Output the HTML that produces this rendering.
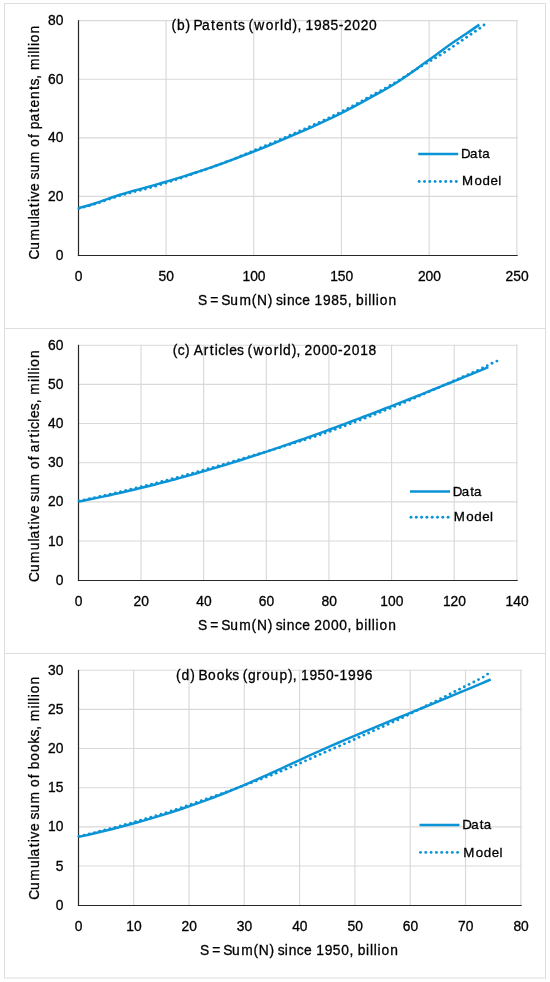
<!DOCTYPE html>
<html><head><meta charset="utf-8"><title>Charts</title>
<style>html,body{margin:0;padding:0;background:#fff;width:550px;height:982px;overflow:hidden}svg{display:block}</style>
</head><body>
<svg width="550" height="982" viewBox="0 0 550 982" font-family='"Liberation Sans", Arial, sans-serif' font-size="13.8">
<g fill="none" stroke="#dedede" stroke-width="1">
<rect x="4.5" y="3.5" width="541" height="974.5"/>
<line x1="4.5" y1="328.5" x2="545.5" y2="328.5"/>
<line x1="4.5" y1="653.5" x2="545.5" y2="653.5"/>
</g>
<g stroke="#d9d9d9" stroke-width="1.15" fill="none">
<line x1="78.60" y1="196.40" x2="517.70" y2="196.40"/>
<line x1="78.60" y1="137.80" x2="517.70" y2="137.80"/>
<line x1="78.60" y1="79.20" x2="517.70" y2="79.20"/>
<line x1="78.60" y1="20.60" x2="517.70" y2="20.60"/>
<line x1="166.05" y1="20.20" x2="166.05" y2="255.20"/>
<line x1="253.75" y1="20.20" x2="253.75" y2="255.20"/>
<line x1="341.45" y1="20.20" x2="341.45" y2="255.20"/>
<line x1="429.15" y1="20.20" x2="429.15" y2="255.20"/>
<line x1="516.85" y1="20.20" x2="516.85" y2="255.20"/>
</g>
<g stroke="#262626" stroke-width="1.2" fill="none">
<line x1="78.50" y1="20.20" x2="78.50" y2="256.10"/>
<line x1="77.90" y1="255.50" x2="517.70" y2="255.50"/>
</g>
<g fill="#0a93d5"><circle cx="79.00" cy="208.44" r="1.45"/><circle cx="84.15" cy="207.10" r="1.45"/><circle cx="89.29" cy="205.70" r="1.45"/><circle cx="94.38" cy="204.14" r="1.45"/><circle cx="99.44" cy="202.48" r="1.45"/><circle cx="104.49" cy="200.78" r="1.45"/><circle cx="109.53" cy="199.07" r="1.45"/><circle cx="114.58" cy="197.39" r="1.45"/><circle cx="119.65" cy="195.77" r="1.45"/><circle cx="124.76" cy="194.29" r="1.45"/><circle cx="129.90" cy="192.90" r="1.45"/><circle cx="135.06" cy="191.57" r="1.45"/><circle cx="140.22" cy="190.27" r="1.45"/><circle cx="145.38" cy="188.95" r="1.45"/><circle cx="150.53" cy="187.60" r="1.45"/><circle cx="155.65" cy="186.13" r="1.45"/><circle cx="160.74" cy="184.57" r="1.45"/><circle cx="165.82" cy="182.97" r="1.45"/><circle cx="170.88" cy="181.33" r="1.45"/><circle cx="175.94" cy="179.67" r="1.45"/><circle cx="181.00" cy="177.99" r="1.45"/><circle cx="186.04" cy="176.28" r="1.45"/><circle cx="191.07" cy="174.55" r="1.45"/><circle cx="196.10" cy="172.80" r="1.45"/><circle cx="201.12" cy="171.03" r="1.45"/><circle cx="206.15" cy="169.27" r="1.45"/><circle cx="211.17" cy="167.50" r="1.45"/><circle cx="216.18" cy="165.71" r="1.45"/><circle cx="221.18" cy="163.88" r="1.45"/><circle cx="226.17" cy="162.01" r="1.45"/><circle cx="231.14" cy="160.09" r="1.45"/><circle cx="236.07" cy="158.10" r="1.45"/><circle cx="240.98" cy="156.05" r="1.45"/><circle cx="245.89" cy="153.96" r="1.45"/><circle cx="250.78" cy="151.86" r="1.45"/><circle cx="255.68" cy="149.79" r="1.45"/><circle cx="260.60" cy="147.76" r="1.45"/><circle cx="265.52" cy="145.72" r="1.45"/><circle cx="270.44" cy="143.68" r="1.45"/><circle cx="275.35" cy="141.62" r="1.45"/><circle cx="280.25" cy="139.54" r="1.45"/><circle cx="285.14" cy="137.44" r="1.45"/><circle cx="290.03" cy="135.32" r="1.45"/><circle cx="294.91" cy="133.19" r="1.45"/><circle cx="299.78" cy="131.05" r="1.45"/><circle cx="304.65" cy="128.89" r="1.45"/><circle cx="309.52" cy="126.73" r="1.45"/><circle cx="314.37" cy="124.55" r="1.45"/><circle cx="319.22" cy="122.34" r="1.45"/><circle cx="324.05" cy="120.11" r="1.45"/><circle cx="328.87" cy="117.84" r="1.45"/><circle cx="333.67" cy="115.53" r="1.45"/><circle cx="338.45" cy="113.19" r="1.45"/><circle cx="343.21" cy="110.80" r="1.45"/><circle cx="347.95" cy="108.38" r="1.45"/><circle cx="352.66" cy="105.91" r="1.45"/><circle cx="357.36" cy="103.40" r="1.45"/><circle cx="362.04" cy="100.85" r="1.45"/><circle cx="366.70" cy="98.29" r="1.45"/><circle cx="371.37" cy="95.72" r="1.45"/><circle cx="376.03" cy="93.16" r="1.45"/><circle cx="380.72" cy="90.63" r="1.45"/><circle cx="385.41" cy="88.11" r="1.45"/><circle cx="390.05" cy="85.51" r="1.45"/><circle cx="394.66" cy="82.84" r="1.45"/><circle cx="399.23" cy="80.10" r="1.45"/><circle cx="403.74" cy="77.27" r="1.45"/><circle cx="408.23" cy="74.42" r="1.45"/><circle cx="412.71" cy="71.53" r="1.45"/><circle cx="417.20" cy="68.68" r="1.45"/><circle cx="421.77" cy="65.95" r="1.45"/><circle cx="426.39" cy="63.30" r="1.45"/><circle cx="430.99" cy="60.61" r="1.45"/><circle cx="435.58" cy="57.91" r="1.45"/><circle cx="440.12" cy="55.13" r="1.45"/><circle cx="444.61" cy="52.27" r="1.45"/><circle cx="449.06" cy="49.35" r="1.45"/><circle cx="453.44" cy="46.33" r="1.45"/><circle cx="457.81" cy="43.28" r="1.45"/><circle cx="462.20" cy="40.27" r="1.45"/><circle cx="466.60" cy="37.27" r="1.45"/><circle cx="470.99" cy="34.26" r="1.45"/><circle cx="475.38" cy="31.25" r="1.45"/><circle cx="479.76" cy="28.22" r="1.45"/><circle cx="484.00" cy="25.00" r="1.45"/></g>
<path d="M79.00,207.94 C80.36,207.58 84.45,206.57 87.17,205.78 C89.89,204.99 92.62,204.11 95.34,203.22 C98.06,202.32 100.79,201.36 103.51,200.42 C106.23,199.47 108.95,198.49 111.68,197.55 C114.40,196.62 117.12,195.67 119.85,194.80 C122.57,193.93 125.29,193.11 128.02,192.33 C130.74,191.55 133.46,190.85 136.19,190.11 C138.91,189.37 141.63,188.63 144.36,187.88 C147.08,187.13 149.80,186.37 152.52,185.60 C155.25,184.83 157.97,184.06 160.69,183.27 C163.42,182.48 166.14,181.68 168.86,180.88 C171.59,180.07 174.31,179.25 177.03,178.42 C179.76,177.59 182.48,176.75 185.20,175.89 C187.93,175.04 190.65,174.17 193.37,173.29 C196.09,172.41 198.82,171.51 201.54,170.60 C204.26,169.69 206.99,168.77 209.71,167.83 C212.43,166.89 215.16,165.94 217.88,164.97 C220.60,164.01 223.33,163.03 226.05,162.04 C228.77,161.04 231.50,160.04 234.22,159.02 C236.94,158.00 239.66,156.97 242.39,155.93 C245.11,154.89 247.83,153.83 250.56,152.77 C253.28,151.70 256.00,150.63 258.73,149.54 C261.45,148.45 264.17,147.35 266.90,146.24 C269.62,145.13 272.34,144.01 275.07,142.88 C277.79,141.75 280.51,140.60 283.23,139.45 C285.96,138.30 288.68,137.14 291.40,135.97 C294.13,134.80 296.85,133.62 299.57,132.44 C302.30,131.25 305.02,130.05 307.74,128.85 C310.47,127.64 313.19,126.43 315.91,125.19 C318.64,123.96 321.36,122.72 324.08,121.45 C326.80,120.19 329.53,118.91 332.25,117.60 C334.97,116.29 337.70,114.97 340.42,113.61 C343.14,112.26 345.87,110.88 348.59,109.46 C351.31,108.05 354.04,106.60 356.76,105.13 C359.48,103.66 362.21,102.16 364.93,100.66 C367.65,99.17 370.37,97.67 373.10,96.17 C375.82,94.66 378.54,93.18 381.27,91.64 C383.99,90.11 386.71,88.57 389.44,86.95 C392.16,85.34 394.88,83.69 397.61,81.95 C400.33,80.21 403.05,78.39 405.78,76.51 C408.50,74.64 411.22,72.66 413.94,70.71 C416.67,68.76 419.39,66.78 422.11,64.83 C424.84,62.87 427.56,60.96 430.28,59.00 C433.01,57.04 435.73,55.03 438.45,53.04 C441.18,51.05 443.90,49.01 446.62,47.05 C449.35,45.09 452.07,43.16 454.79,41.29 C457.51,39.42 460.24,37.63 462.96,35.81 C465.68,33.99 468.41,32.22 471.13,30.35 C473.85,28.49 477.94,25.58 479.30,24.63" fill="none" stroke="#0a93d5" stroke-width="2.50" stroke-linejoin="round"/>
<line x1="418.20" y1="153.90" x2="458.20" y2="153.90" stroke="#0a93d5" stroke-width="2.50"/>
<g fill="#0a93d5"><circle cx="419.20" cy="181.50" r="1.45"/><circle cx="424.50" cy="181.50" r="1.45"/><circle cx="429.80" cy="181.50" r="1.45"/><circle cx="435.10" cy="181.50" r="1.45"/><circle cx="440.40" cy="181.50" r="1.45"/><circle cx="445.70" cy="181.50" r="1.45"/><circle cx="451.00" cy="181.50" r="1.45"/><circle cx="456.30" cy="181.50" r="1.45"/></g>
<g fill="#000" stroke="#000" stroke-width="0.30">
<text x="63.40" y="260.00" text-anchor="end">0</text>
<text x="63.40" y="201.00" text-anchor="end">20</text>
<text x="63.40" y="142.00" text-anchor="end">40</text>
<text x="63.40" y="84.00" text-anchor="end">60</text>
<text x="63.40" y="25.00" text-anchor="end">80</text>
<text x="78.60" y="280.80" text-anchor="middle">0</text>
<text x="166.30" y="280.80" text-anchor="middle">50</text>
<text x="254.00" y="280.80" text-anchor="middle">100</text>
<text x="341.70" y="280.80" text-anchor="middle">150</text>
<text x="429.40" y="280.80" text-anchor="middle">200</text>
<text x="517.10" y="280.80" text-anchor="middle">250</text>
<text x="171.42 177.03 185.48 190.04 193.62 202.02 211.06 216.10 224.58 233.50 238.09 244.66 248.48 254.37 265.78 274.58 280.10 283.90 292.61 297.38 301.29 305.58 314.05 322.17 330.45 338.81 344.00 352.35 360.75 369.10" y="30.10">(b) Patents (world), 1985-2020</text>
<text x="197.99 206.41 210.28 218.38 221.30 230.23 239.38 251.71 257.04 267.77 272.33 275.96 282.94 286.94 295.12 302.36 310.24 314.54 323.02 331.15 339.43 347.73 351.64 356.06 364.47 368.27 372.07 375.86 379.82 388.58" y="304.60">S = Sum(N) since 1985, billion</text>
<text transform="translate(38.80,258.40) rotate(-90)" x="-1.10 8.70 17.82 30.54 39.12 42.20 51.24 56.33 60.04 67.50 75.37 78.99 86.05 95.17 107.39 111.68 120.40 124.85 129.25 136.95 145.99 151.01 159.48 168.38 172.96 179.74 183.64 188.32 200.95 204.74 208.53 212.31 216.25 224.99" y="0">Cumulative sum of patents, million</text>
<text x="461.06 469.96 478.35 482.27" y="158.30" font-size="13.30">Data</text>
<text x="461.99 474.47 482.46 490.46 498.26" y="185.10" font-size="13.30">Model</text>
</g>
<g stroke="#d9d9d9" stroke-width="1.15" fill="none">
<line x1="78.60" y1="541.03" x2="517.70" y2="541.03"/>
<line x1="78.60" y1="501.87" x2="517.70" y2="501.87"/>
<line x1="78.60" y1="462.70" x2="517.70" y2="462.70"/>
<line x1="78.60" y1="423.53" x2="517.70" y2="423.53"/>
<line x1="78.60" y1="384.37" x2="517.70" y2="384.37"/>
<line x1="78.60" y1="345.20" x2="517.70" y2="345.20"/>
<line x1="140.99" y1="344.80" x2="140.99" y2="580.40"/>
<line x1="203.64" y1="344.80" x2="203.64" y2="580.40"/>
<line x1="266.28" y1="344.80" x2="266.28" y2="580.40"/>
<line x1="328.92" y1="344.80" x2="328.92" y2="580.40"/>
<line x1="391.56" y1="344.80" x2="391.56" y2="580.40"/>
<line x1="454.21" y1="344.80" x2="454.21" y2="580.40"/>
<line x1="516.85" y1="344.80" x2="516.85" y2="580.40"/>
</g>
<g stroke="#262626" stroke-width="1.2" fill="none">
<line x1="78.50" y1="344.80" x2="78.50" y2="581.10"/>
<line x1="77.90" y1="580.50" x2="517.70" y2="580.50"/>
</g>
<g fill="#0a93d5"><circle cx="79.00" cy="500.98" r="1.45"/><circle cx="84.21" cy="499.90" r="1.45"/><circle cx="89.42" cy="498.80" r="1.45"/><circle cx="94.62" cy="497.68" r="1.45"/><circle cx="99.82" cy="496.54" r="1.45"/><circle cx="105.02" cy="495.38" r="1.45"/><circle cx="110.21" cy="494.20" r="1.45"/><circle cx="115.39" cy="493.00" r="1.45"/><circle cx="120.57" cy="491.78" r="1.45"/><circle cx="125.75" cy="490.54" r="1.45"/><circle cx="130.92" cy="489.28" r="1.45"/><circle cx="136.09" cy="488.00" r="1.45"/><circle cx="141.25" cy="486.71" r="1.45"/><circle cx="146.42" cy="485.43" r="1.45"/><circle cx="151.58" cy="484.14" r="1.45"/><circle cx="156.74" cy="482.83" r="1.45"/><circle cx="161.90" cy="481.51" r="1.45"/><circle cx="167.05" cy="480.16" r="1.45"/><circle cx="172.19" cy="478.78" r="1.45"/><circle cx="177.33" cy="477.40" r="1.45"/><circle cx="182.46" cy="475.99" r="1.45"/><circle cx="187.59" cy="474.57" r="1.45"/><circle cx="192.71" cy="473.13" r="1.45"/><circle cx="197.84" cy="471.68" r="1.45"/><circle cx="202.96" cy="470.23" r="1.45"/><circle cx="208.08" cy="468.78" r="1.45"/><circle cx="213.20" cy="467.33" r="1.45"/><circle cx="218.31" cy="465.85" r="1.45"/><circle cx="223.42" cy="464.36" r="1.45"/><circle cx="228.53" cy="462.85" r="1.45"/><circle cx="233.63" cy="461.32" r="1.45"/><circle cx="238.72" cy="459.78" r="1.45"/><circle cx="243.81" cy="458.21" r="1.45"/><circle cx="248.90" cy="456.67" r="1.45"/><circle cx="254.01" cy="455.17" r="1.45"/><circle cx="259.12" cy="453.68" r="1.45"/><circle cx="264.23" cy="452.20" r="1.45"/><circle cx="269.34" cy="450.70" r="1.45"/><circle cx="274.44" cy="449.17" r="1.45"/><circle cx="279.53" cy="447.63" r="1.45"/><circle cx="284.62" cy="446.07" r="1.45"/><circle cx="289.70" cy="444.49" r="1.45"/><circle cx="294.78" cy="442.90" r="1.45"/><circle cx="299.86" cy="441.30" r="1.45"/><circle cx="304.93" cy="439.69" r="1.45"/><circle cx="310.00" cy="438.06" r="1.45"/><circle cx="315.07" cy="436.45" r="1.45"/><circle cx="320.13" cy="434.78" r="1.45"/><circle cx="325.14" cy="433.00" r="1.45"/><circle cx="330.14" cy="431.18" r="1.45"/><circle cx="335.15" cy="429.36" r="1.45"/><circle cx="340.15" cy="427.54" r="1.45"/><circle cx="345.15" cy="425.71" r="1.45"/><circle cx="350.14" cy="423.87" r="1.45"/><circle cx="355.12" cy="421.99" r="1.45"/><circle cx="360.09" cy="420.09" r="1.45"/><circle cx="365.06" cy="418.17" r="1.45"/><circle cx="370.01" cy="416.23" r="1.45"/><circle cx="374.97" cy="414.28" r="1.45"/><circle cx="379.92" cy="412.32" r="1.45"/><circle cx="384.86" cy="410.36" r="1.45"/><circle cx="389.81" cy="408.39" r="1.45"/><circle cx="394.75" cy="406.42" r="1.45"/><circle cx="399.70" cy="404.45" r="1.45"/><circle cx="404.62" cy="402.42" r="1.45"/><circle cx="409.50" cy="400.31" r="1.45"/><circle cx="414.38" cy="398.17" r="1.45"/><circle cx="419.25" cy="396.04" r="1.45"/><circle cx="424.13" cy="393.89" r="1.45"/><circle cx="429.00" cy="391.74" r="1.45"/><circle cx="433.87" cy="389.59" r="1.45"/><circle cx="438.74" cy="387.45" r="1.45"/><circle cx="443.61" cy="385.32" r="1.45"/><circle cx="448.49" cy="383.19" r="1.45"/><circle cx="453.38" cy="381.07" r="1.45"/><circle cx="458.26" cy="378.94" r="1.45"/><circle cx="463.13" cy="376.81" r="1.45"/><circle cx="468.01" cy="374.68" r="1.45"/><circle cx="472.89" cy="372.55" r="1.45"/><circle cx="477.73" cy="370.35" r="1.45"/><circle cx="482.53" cy="368.04" r="1.45"/><circle cx="487.30" cy="365.67" r="1.45"/><circle cx="492.01" cy="363.20" r="1.45"/><circle cx="496.90" cy="361.10" r="1.45"/></g>
<path d="M79.00,501.48 C80.39,501.21 84.57,500.40 87.35,499.84 C90.14,499.29 92.92,498.72 95.71,498.14 C98.49,497.57 101.27,496.99 104.06,496.39 C106.84,495.80 109.63,495.20 112.41,494.58 C115.20,493.97 117.98,493.35 120.77,492.72 C123.55,492.09 126.33,491.45 129.12,490.80 C131.90,490.15 134.69,489.49 137.47,488.83 C140.26,488.16 143.04,487.48 145.82,486.80 C148.61,486.11 151.39,485.42 154.18,484.71 C156.96,484.01 159.75,483.30 162.53,482.58 C165.31,481.86 168.10,481.13 170.88,480.39 C173.67,479.65 176.45,478.90 179.24,478.15 C182.02,477.39 184.81,476.63 187.59,475.85 C190.37,475.08 193.16,474.30 195.94,473.51 C198.73,472.72 201.51,471.92 204.30,471.11 C207.08,470.30 209.86,469.49 212.65,468.66 C215.43,467.84 218.22,467.01 221.00,466.16 C223.79,465.32 226.57,464.47 229.36,463.61 C232.14,462.76 234.92,461.89 237.71,461.02 C240.49,460.14 243.28,459.26 246.06,458.37 C248.85,457.48 251.63,456.58 254.41,455.67 C257.20,454.76 259.98,453.85 262.77,452.93 C265.55,452.00 268.34,451.08 271.12,450.14 C273.90,449.20 276.69,448.26 279.47,447.31 C282.26,446.36 285.04,445.40 287.83,444.44 C290.61,443.47 293.40,442.50 296.18,441.53 C298.96,440.55 301.75,439.57 304.53,438.58 C307.32,437.59 310.10,436.59 312.89,435.59 C315.67,434.59 318.45,433.59 321.24,432.58 C324.02,431.56 326.81,430.55 329.59,429.53 C332.38,428.50 335.16,427.48 337.94,426.45 C340.73,425.41 343.51,424.38 346.30,423.34 C349.08,422.30 351.87,421.25 354.65,420.20 C357.44,419.15 360.22,418.10 363.00,417.04 C365.79,415.98 368.57,414.92 371.36,413.86 C374.14,412.79 376.93,411.72 379.71,410.65 C382.49,409.58 385.28,408.50 388.06,407.42 C390.85,406.34 393.63,405.26 396.42,404.17 C399.20,403.08 401.99,401.99 404.77,400.89 C407.55,399.80 410.34,398.70 413.12,397.60 C415.91,396.50 418.69,395.40 421.48,394.29 C424.26,393.18 427.04,392.07 429.83,390.96 C432.61,389.84 435.40,388.73 438.18,387.61 C440.97,386.49 443.75,385.37 446.53,384.24 C449.32,383.12 452.10,381.99 454.89,380.86 C457.67,379.73 460.46,378.60 463.24,377.46 C466.03,376.33 468.81,375.19 471.59,374.05 C474.38,372.91 477.16,371.77 479.95,370.62 C482.73,369.48 486.91,367.75 488.30,367.18" fill="none" stroke="#0a93d5" stroke-width="2.50" stroke-linejoin="round"/>
<line x1="410.00" y1="491.40" x2="450.00" y2="491.40" stroke="#0a93d5" stroke-width="2.50"/>
<g fill="#0a93d5"><circle cx="411.00" cy="517.20" r="1.45"/><circle cx="416.30" cy="517.20" r="1.45"/><circle cx="421.60" cy="517.20" r="1.45"/><circle cx="426.90" cy="517.20" r="1.45"/><circle cx="432.20" cy="517.20" r="1.45"/><circle cx="437.50" cy="517.20" r="1.45"/><circle cx="442.80" cy="517.20" r="1.45"/><circle cx="448.10" cy="517.20" r="1.45"/></g>
<g fill="#000" stroke="#000" stroke-width="0.30">
<text x="63.40" y="585.00" text-anchor="end">0</text>
<text x="63.40" y="546.00" text-anchor="end">10</text>
<text x="63.40" y="506.00" text-anchor="end">20</text>
<text x="63.40" y="467.00" text-anchor="end">30</text>
<text x="63.40" y="428.00" text-anchor="end">40</text>
<text x="63.40" y="389.00" text-anchor="end">50</text>
<text x="63.40" y="350.00" text-anchor="end">60</text>
<text x="78.60" y="606.00" text-anchor="middle">0</text>
<text x="141.24" y="606.00" text-anchor="middle">20</text>
<text x="203.89" y="606.00" text-anchor="middle">40</text>
<text x="266.53" y="606.00" text-anchor="middle">60</text>
<text x="329.17" y="606.00" text-anchor="middle">80</text>
<text x="391.81" y="606.00" text-anchor="middle">100</text>
<text x="454.46" y="606.00" text-anchor="middle">120</text>
<text x="517.10" y="606.00" text-anchor="middle">140</text>
<text x="172.73 177.77 185.12 189.69 193.67 203.68 209.63 214.75 218.25 225.56 229.29 237.08 243.67 247.50 253.41 264.85 273.67 279.19 283.02 291.74 296.52 300.44 304.61 312.99 321.38 329.78 338.05 343.26 351.64 360.19 368.43" y="354.80">(c) Articles (world), 2000-2018</text>
<text x="197.98 206.39 210.26 218.35 221.26 230.17 239.31 251.62 256.94 267.66 272.21 275.84 282.81 286.80 294.97 302.19 310.07 314.22 322.57 330.94 339.31 347.50 351.40 355.82 364.22 368.01 371.80 375.59 379.54 388.28" y="630.20">S = Sum(N) since 2000, billion</text>
<text transform="translate(38.80,580.80) rotate(-90)" x="-1.10 8.72 17.86 30.60 39.19 42.27 51.32 56.42 60.14 67.61 75.49 79.12 86.19 95.33 107.56 111.87 120.60 125.05 128.49 137.36 143.30 148.40 151.88 159.18 162.90 170.68 177.46 181.37 186.06 198.70 202.50 206.29 210.08 214.03 222.78" y="0">Cumulative sum of articles, million</text>
<text x="452.86 461.76 470.15 474.07" y="495.60" font-size="13.30">Data</text>
<text x="453.79 466.27 474.26 482.26 490.06" y="520.70" font-size="13.30">Model</text>
</g>
<g stroke="#d9d9d9" stroke-width="1.15" fill="none">
<line x1="78.60" y1="866.03" x2="521.70" y2="866.03"/>
<line x1="78.60" y1="826.87" x2="521.70" y2="826.87"/>
<line x1="78.60" y1="787.70" x2="521.70" y2="787.70"/>
<line x1="78.60" y1="748.53" x2="521.70" y2="748.53"/>
<line x1="78.60" y1="709.37" x2="521.70" y2="709.37"/>
<line x1="78.60" y1="670.20" x2="521.70" y2="670.20"/>
<line x1="133.66" y1="669.80" x2="133.66" y2="905.40"/>
<line x1="188.97" y1="669.80" x2="188.97" y2="905.40"/>
<line x1="244.29" y1="669.80" x2="244.29" y2="905.40"/>
<line x1="299.60" y1="669.80" x2="299.60" y2="905.40"/>
<line x1="354.91" y1="669.80" x2="354.91" y2="905.40"/>
<line x1="410.23" y1="669.80" x2="410.23" y2="905.40"/>
<line x1="465.54" y1="669.80" x2="465.54" y2="905.40"/>
<line x1="520.85" y1="669.80" x2="520.85" y2="905.40"/>
</g>
<g stroke="#262626" stroke-width="1.2" fill="none">
<line x1="78.50" y1="669.80" x2="78.50" y2="906.10"/>
<line x1="77.90" y1="905.50" x2="521.70" y2="905.50"/>
</g>
<g fill="#0a93d5"><circle cx="79.00" cy="836.32" r="1.45"/><circle cx="84.17" cy="835.10" r="1.45"/><circle cx="89.34" cy="833.86" r="1.45"/><circle cx="94.50" cy="832.60" r="1.45"/><circle cx="99.65" cy="831.32" r="1.45"/><circle cx="104.80" cy="830.01" r="1.45"/><circle cx="109.94" cy="828.68" r="1.45"/><circle cx="115.08" cy="827.33" r="1.45"/><circle cx="120.21" cy="825.95" r="1.45"/><circle cx="125.33" cy="824.54" r="1.45"/><circle cx="130.44" cy="823.10" r="1.45"/><circle cx="135.55" cy="821.64" r="1.45"/><circle cx="140.65" cy="820.16" r="1.45"/><circle cx="145.76" cy="818.69" r="1.45"/><circle cx="150.86" cy="817.21" r="1.45"/><circle cx="155.95" cy="815.70" r="1.45"/><circle cx="161.03" cy="814.15" r="1.45"/><circle cx="166.11" cy="812.58" r="1.45"/><circle cx="171.17" cy="810.97" r="1.45"/><circle cx="176.22" cy="809.34" r="1.45"/><circle cx="181.26" cy="807.66" r="1.45"/><circle cx="186.30" cy="805.96" r="1.45"/><circle cx="191.32" cy="804.23" r="1.45"/><circle cx="196.34" cy="802.49" r="1.45"/><circle cx="201.35" cy="800.74" r="1.45"/><circle cx="206.38" cy="799.02" r="1.45"/><circle cx="211.41" cy="797.31" r="1.45"/><circle cx="216.42" cy="795.57" r="1.45"/><circle cx="221.43" cy="793.78" r="1.45"/><circle cx="226.42" cy="791.96" r="1.45"/><circle cx="231.39" cy="790.10" r="1.45"/><circle cx="236.37" cy="788.24" r="1.45"/><circle cx="241.35" cy="786.40" r="1.45"/><circle cx="246.33" cy="784.56" r="1.45"/><circle cx="251.32" cy="782.74" r="1.45"/><circle cx="256.31" cy="780.90" r="1.45"/><circle cx="261.28" cy="779.02" r="1.45"/><circle cx="266.23" cy="777.11" r="1.45"/><circle cx="271.17" cy="775.15" r="1.45"/><circle cx="276.10" cy="773.17" r="1.45"/><circle cx="281.01" cy="771.16" r="1.45"/><circle cx="285.92" cy="769.13" r="1.45"/><circle cx="290.84" cy="767.12" r="1.45"/><circle cx="295.76" cy="765.10" r="1.45"/><circle cx="300.64" cy="763.01" r="1.45"/><circle cx="305.50" cy="760.87" r="1.45"/><circle cx="310.36" cy="758.72" r="1.45"/><circle cx="315.21" cy="756.56" r="1.45"/><circle cx="320.07" cy="754.42" r="1.45"/><circle cx="324.94" cy="752.29" r="1.45"/><circle cx="329.81" cy="750.17" r="1.45"/><circle cx="334.69" cy="748.07" r="1.45"/><circle cx="339.57" cy="745.97" r="1.45"/><circle cx="344.44" cy="743.87" r="1.45"/><circle cx="349.31" cy="741.73" r="1.45"/><circle cx="354.14" cy="739.53" r="1.45"/><circle cx="358.97" cy="737.31" r="1.45"/><circle cx="363.81" cy="735.12" r="1.45"/><circle cx="368.65" cy="732.93" r="1.45"/><circle cx="373.49" cy="730.76" r="1.45"/><circle cx="378.34" cy="728.59" r="1.45"/><circle cx="383.20" cy="726.43" r="1.45"/><circle cx="388.05" cy="724.28" r="1.45"/><circle cx="392.90" cy="722.10" r="1.45"/><circle cx="397.74" cy="719.91" r="1.45"/><circle cx="402.54" cy="717.63" r="1.45"/><circle cx="407.29" cy="715.26" r="1.45"/><circle cx="412.04" cy="712.88" r="1.45"/><circle cx="416.79" cy="710.52" r="1.45"/><circle cx="421.55" cy="708.16" r="1.45"/><circle cx="426.32" cy="705.81" r="1.45"/><circle cx="431.08" cy="703.46" r="1.45"/><circle cx="435.85" cy="701.11" r="1.45"/><circle cx="440.61" cy="698.75" r="1.45"/><circle cx="445.36" cy="696.37" r="1.45"/><circle cx="450.10" cy="693.98" r="1.45"/><circle cx="454.83" cy="691.57" r="1.45"/><circle cx="459.55" cy="689.14" r="1.45"/><circle cx="464.29" cy="686.74" r="1.45"/><circle cx="469.06" cy="684.40" r="1.45"/><circle cx="473.82" cy="682.04" r="1.45"/><circle cx="478.54" cy="679.60" r="1.45"/><circle cx="483.22" cy="677.08" r="1.45"/><circle cx="487.60" cy="674.10" r="1.45"/></g>
<path d="M79.00,836.82 C80.40,836.51 84.60,835.58 87.40,834.95 C90.20,834.31 93.00,833.67 95.80,833.01 C98.60,832.35 101.41,831.68 104.21,831.00 C107.01,830.32 109.81,829.63 112.61,828.93 C115.41,828.23 118.21,827.51 121.01,826.78 C123.81,826.05 126.61,825.31 129.41,824.56 C132.21,823.80 135.01,823.04 137.81,822.26 C140.61,821.48 143.42,820.68 146.22,819.87 C149.02,819.06 151.82,818.24 154.62,817.40 C157.42,816.57 160.22,815.71 163.02,814.85 C165.82,813.98 168.62,813.10 171.42,812.20 C174.22,811.30 177.02,810.39 179.82,809.45 C182.63,808.52 185.43,807.58 188.23,806.62 C191.03,805.65 193.83,804.67 196.63,803.68 C199.43,802.68 202.23,801.66 205.03,800.63 C207.83,799.60 210.63,798.55 213.43,797.48 C216.23,796.42 219.03,795.33 221.83,794.23 C224.64,793.13 227.44,792.01 230.24,790.87 C233.04,789.73 235.84,788.58 238.64,787.41 C241.44,786.24 244.24,785.05 247.04,783.85 C249.84,782.65 252.64,781.42 255.44,780.19 C258.24,778.96 261.04,777.70 263.84,776.44 C266.65,775.18 269.45,773.91 272.25,772.63 C275.05,771.35 277.85,770.06 280.65,768.77 C283.45,767.48 286.25,766.18 289.05,764.89 C291.85,763.60 294.65,762.31 297.45,761.02 C300.25,759.74 303.05,758.45 305.86,757.18 C308.66,755.91 311.46,754.64 314.26,753.38 C317.06,752.12 319.86,750.87 322.66,749.63 C325.46,748.38 328.26,747.15 331.06,745.92 C333.86,744.69 336.66,743.47 339.46,742.26 C342.26,741.05 345.06,739.85 347.87,738.65 C350.67,737.46 353.47,736.27 356.27,735.09 C359.07,733.91 361.87,732.74 364.67,731.57 C367.47,730.40 370.27,729.24 373.07,728.08 C375.87,726.92 378.67,725.77 381.47,724.62 C384.27,723.47 387.07,722.32 389.88,721.18 C392.68,720.03 395.48,718.89 398.28,717.75 C401.08,716.61 403.88,715.47 406.68,714.34 C409.48,713.20 412.28,712.06 415.08,710.92 C417.88,709.78 420.68,708.64 423.48,707.50 C426.28,706.36 429.09,705.22 431.89,704.07 C434.69,702.93 437.49,701.78 440.29,700.63 C443.09,699.47 445.89,698.32 448.69,697.16 C451.49,696.00 454.29,694.83 457.09,693.66 C459.89,692.50 462.69,691.33 465.49,690.15 C468.29,688.98 471.10,687.80 473.90,686.62 C476.70,685.44 479.50,684.26 482.30,683.08 C485.10,681.89 489.30,680.11 490.70,679.52" fill="none" stroke="#0a93d5" stroke-width="2.50" stroke-linejoin="round"/>
<line x1="419.50" y1="824.90" x2="459.50" y2="824.90" stroke="#0a93d5" stroke-width="2.50"/>
<g fill="#0a93d5"><circle cx="420.50" cy="852.40" r="1.45"/><circle cx="425.80" cy="852.40" r="1.45"/><circle cx="431.10" cy="852.40" r="1.45"/><circle cx="436.40" cy="852.40" r="1.45"/><circle cx="441.70" cy="852.40" r="1.45"/><circle cx="447.00" cy="852.40" r="1.45"/><circle cx="452.30" cy="852.40" r="1.45"/><circle cx="457.60" cy="852.40" r="1.45"/></g>
<g fill="#000" stroke="#000" stroke-width="0.30">
<text x="63.40" y="910.00" text-anchor="end">0</text>
<text x="63.40" y="871.00" text-anchor="end">5</text>
<text x="63.40" y="831.00" text-anchor="end">10</text>
<text x="63.40" y="792.00" text-anchor="end">15</text>
<text x="63.40" y="753.00" text-anchor="end">20</text>
<text x="63.40" y="714.00" text-anchor="end">25</text>
<text x="63.40" y="675.00" text-anchor="end">30</text>
<text x="78.60" y="931.00" text-anchor="middle">0</text>
<text x="133.91" y="931.00" text-anchor="middle">10</text>
<text x="189.22" y="931.00" text-anchor="middle">20</text>
<text x="244.54" y="931.00" text-anchor="middle">30</text>
<text x="299.85" y="931.00" text-anchor="middle">40</text>
<text x="355.16" y="931.00" text-anchor="middle">50</text>
<text x="410.48" y="931.00" text-anchor="middle">60</text>
<text x="465.79" y="931.00" text-anchor="middle">70</text>
<text x="521.10" y="931.00" text-anchor="middle">80</text>
<text x="176.03 181.40 190.13 194.70 198.42 208.04 216.78 225.24 232.37 238.95 242.79 248.10 256.19 261.88 270.55 279.43 287.91 292.70 296.62 300.92 309.42 317.47 325.97 334.25 339.59 348.09 356.49 364.68" y="679.80">(d) Books (group), 1950-1996</text>
<text x="199.88 208.29 212.16 220.25 223.16 232.07 241.21 253.52 258.84 269.56 274.11 277.74 284.71 288.70 296.87 304.09 311.97 316.26 324.72 332.74 341.21 349.40 353.30 357.72 366.12 369.91 373.70 377.49 381.44 390.18" y="954.80">S = Sum(N) since 1950, billion</text>
<text transform="translate(38.80,898.60) rotate(-90)" x="-1.10 8.70 17.83 30.55 39.13 42.21 51.24 56.34 60.05 67.51 75.38 79.00 86.06 95.18 107.41 111.70 120.42 124.87 129.28 137.83 146.53 154.96 162.06 168.83 172.74 177.42 190.05 193.84 197.62 201.40 205.35 214.09" y="0">Cumulative sum of books, million</text>
<text x="462.37 471.31 479.71 483.66" y="829.30" font-size="13.30">Data</text>
<text x="463.29 475.77 483.76 491.76 499.56" y="856.60" font-size="13.30">Model</text>
</g>
</svg>
</body></html>
